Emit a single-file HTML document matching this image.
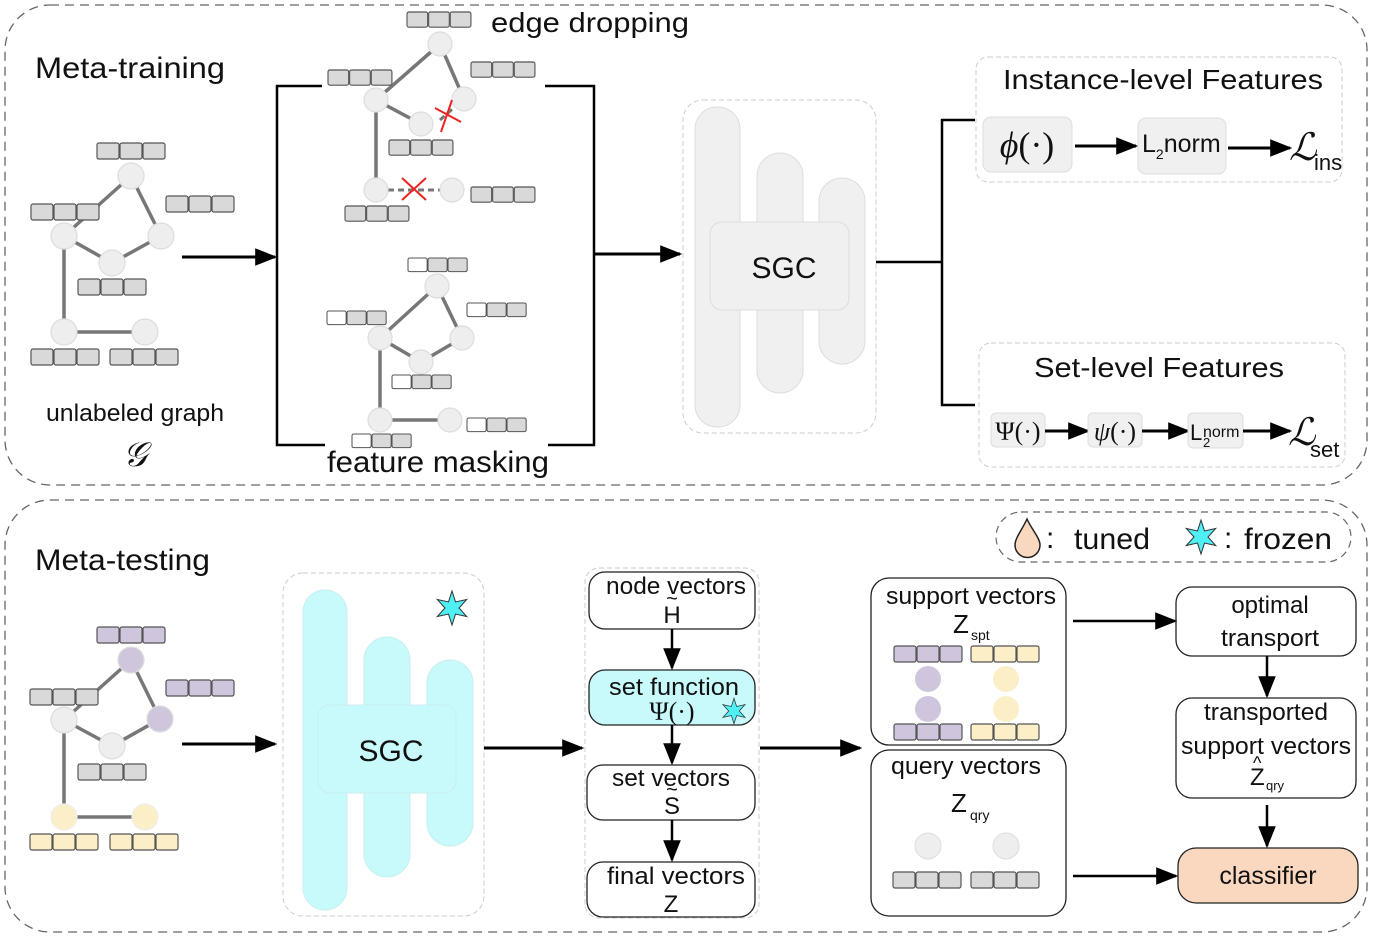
<!DOCTYPE html>
<html><head><meta charset="utf-8"><style>
html,body{margin:0;padding:0;background:#fff}
svg{display:block}
text{font-family:"Liberation Sans",sans-serif;fill:#111}
.s{font-family:"Liberation Serif",serif}
</style></head><body>
<svg width="1373" height="936" viewBox="0 0 1373 936" xmlns="http://www.w3.org/2000/svg">
<defs>
<marker id="ah" viewBox="0 0 10 10" refX="9" refY="5" markerWidth="10" markerHeight="10" markerUnits="userSpaceOnUse" orient="auto"><path d="M0,0L10,5L0,10z" fill="#000"/></marker>
<marker id="ab" viewBox="0 0 10 10" refX="9" refY="5" markerWidth="22" markerHeight="22" markerUnits="userSpaceOnUse" orient="auto"><path d="M0,1L10,5L0,9z" fill="#000"/></marker>
<g id="bg"><rect x="0" y="0" width="22" height="16" rx="2" fill="#d9d9d9" stroke="#555" stroke-width="1.2"/><rect x="23" y="0" width="22" height="16" rx="2" fill="#d9d9d9" stroke="#555" stroke-width="1.2"/><rect x="46" y="0" width="22" height="16" rx="2" fill="#d9d9d9" stroke="#555" stroke-width="1.2"/></g>
<g id="bm"><rect x="0" y="0" width="22" height="16" rx="2" fill="#fff" stroke="#555" stroke-width="1.2"/><rect x="23" y="0" width="22" height="16" rx="2" fill="#d9d9d9" stroke="#555" stroke-width="1.2"/><rect x="46" y="0" width="22" height="16" rx="2" fill="#d9d9d9" stroke="#555" stroke-width="1.2"/></g>
<g id="bp"><rect x="0" y="0" width="22" height="16" rx="2" fill="#cfc6de" stroke="#555" stroke-width="1.2"/><rect x="23" y="0" width="22" height="16" rx="2" fill="#cfc6de" stroke="#555" stroke-width="1.2"/><rect x="46" y="0" width="22" height="16" rx="2" fill="#cfc6de" stroke="#555" stroke-width="1.2"/></g>
<g id="by"><rect x="0" y="0" width="22" height="16" rx="2" fill="#fcefc8" stroke="#555" stroke-width="1.2"/><rect x="23" y="0" width="22" height="16" rx="2" fill="#fcefc8" stroke="#555" stroke-width="1.2"/><rect x="46" y="0" width="22" height="16" rx="2" fill="#fcefc8" stroke="#555" stroke-width="1.2"/></g>
<polygon id="star" points="0,-17 3.5,-6.06 14.72,-8.5 7,0 14.72,8.5 3.5,6.06 0,17 -3.5,6.06 -14.72,8.5 -7,0 -14.72,-8.5 -3.5,-6.06" fill="#4ef0f4" stroke="#333" stroke-width="1"/>
</defs>

<!-- outer dashed boxes -->
<rect x="5" y="5" width="1362" height="480" rx="45" fill="none" stroke="#666" stroke-width="1.3" stroke-dasharray="9,6"/>
<rect x="5" y="500" width="1362" height="432" rx="45" fill="none" stroke="#666" stroke-width="1.3" stroke-dasharray="9,6"/>

<text x="35" y="78" font-size="30" textLength="190" lengthAdjust="spacingAndGlyphs">Meta-training</text>
<text x="35" y="570" font-size="30" textLength="175" lengthAdjust="spacingAndGlyphs">Meta-testing</text>

<!-- top-left graph -->
<g stroke="#777" stroke-width="3.5">
<line x1="131" y1="176" x2="64" y2="236"/><line x1="131" y1="176" x2="161" y2="236"/><line x1="64" y1="236" x2="112" y2="263"/><line x1="161" y1="236" x2="112" y2="263"/><line x1="64" y1="236" x2="64" y2="332"/><line x1="64" y1="332" x2="145" y2="332"/>
</g>
<g fill="#eee" stroke="#ddd" stroke-width="1.2">
<circle cx="131" cy="176" r="13"/><circle cx="64" cy="236" r="13"/><circle cx="161" cy="236" r="13"/><circle cx="112" cy="263" r="13"/><circle cx="64" cy="332" r="13"/><circle cx="145" cy="332" r="13"/>
</g>
<use href="#bg" x="97" y="143"/><use href="#bg" x="31" y="204"/><use href="#bg" x="166" y="196"/><use href="#bg" x="78" y="279"/><use href="#bg" x="31" y="349"/><use href="#bg" x="110" y="349"/>
<text x="135" y="421" font-size="24" text-anchor="middle" textLength="178" lengthAdjust="spacingAndGlyphs">unlabeled graph</text>
<text x="135" y="466" font-size="34" font-style="italic" text-anchor="middle" class="s">𝒢</text>

<line x1="182" y1="257" x2="275" y2="257" stroke="#000" stroke-width="3" marker-end="url(#ab)"/>

<!-- bracket -->
<path d="M322,86H277V445H325M545,86H594V445H548" fill="none" stroke="#000" stroke-width="2.5"/>
<line x1="594" y1="254" x2="680" y2="254" stroke="#000" stroke-width="3" marker-end="url(#ab)"/>

<!-- edge dropping graph -->
<g stroke="#777" stroke-width="3.5">
<line x1="440" y1="44" x2="376" y2="100"/><line x1="440" y1="44" x2="464" y2="99"/><line x1="376" y1="100" x2="421" y2="124"/><line x1="376" y1="100" x2="376" y2="190"/>
</g>
<g stroke="#777" stroke-width="3" stroke-dasharray="6,4"><line x1="440" y1="120" x2="458" y2="104"/><line x1="388" y1="190" x2="440" y2="190"/></g>
<g fill="#eee" stroke="#ddd" stroke-width="1.2">
<circle cx="440" cy="44" r="12"/><circle cx="376" cy="100" r="12"/><circle cx="464" cy="99" r="12"/><circle cx="421" cy="124" r="12"/><circle cx="376" cy="190" r="12"/><circle cx="452" cy="190" r="12"/>
</g>
<g stroke="#e22" stroke-width="2"><line x1="435" y1="108" x2="461" y2="122"/><line x1="452" y1="100" x2="441" y2="132"/><line x1="402" y1="178" x2="426" y2="200"/><line x1="426" y1="178" x2="402" y2="200"/></g>
<g transform="translate(407,12) scale(0.94,0.95)"><use href="#bg"/></g>
<g transform="translate(328,70) scale(0.94,0.95)"><use href="#bg"/></g>
<g transform="translate(471,62) scale(0.94,0.95)"><use href="#bg"/></g>
<g transform="translate(389,140) scale(0.94,0.95)"><use href="#bg"/></g>
<g transform="translate(345,206) scale(0.94,0.95)"><use href="#bg"/></g>
<g transform="translate(471,187) scale(0.94,0.95)"><use href="#bg"/></g>
<text x="491" y="32" font-size="28" textLength="198" lengthAdjust="spacingAndGlyphs">edge dropping</text>

<!-- feature masking graph -->
<g stroke="#777" stroke-width="3.5">
<line x1="437" y1="286" x2="380" y2="338"/><line x1="437" y1="286" x2="462" y2="338"/><line x1="380" y1="338" x2="421" y2="362"/><line x1="462" y1="338" x2="421" y2="362"/><line x1="380" y1="338" x2="380" y2="420"/><line x1="380" y1="420" x2="450" y2="420"/>
</g>
<g fill="#eee" stroke="#ddd" stroke-width="1.2">
<circle cx="437" cy="286" r="12"/><circle cx="380" cy="338" r="12"/><circle cx="462" cy="338" r="12"/><circle cx="421" cy="362" r="12"/><circle cx="380" cy="420" r="12"/><circle cx="450" cy="420" r="12"/>
</g>
<g transform="translate(408,258) scale(0.87,0.85)"><use href="#bm"/></g>
<g transform="translate(327,311) scale(0.87,0.85)"><use href="#bm"/></g>
<g transform="translate(467,303) scale(0.87,0.85)"><use href="#bm"/></g>
<g transform="translate(392,375) scale(0.87,0.85)"><use href="#bm"/></g>
<g transform="translate(352,434) scale(0.87,0.85)"><use href="#bm"/></g>
<g transform="translate(467,418) scale(0.87,0.85)"><use href="#bm"/></g>
<text x="327" y="472" font-size="30" textLength="222" lengthAdjust="spacingAndGlyphs">feature masking</text>

<!-- SGC top -->
<rect x="683" y="100" width="193" height="333" rx="20" fill="none" stroke="#ccc" stroke-width="1" stroke-dasharray="5,3"/>
<g fill="#f0f0f0" stroke="#ddd" stroke-width="1">
<rect x="695" y="107" width="45" height="320" rx="22"/><rect x="757" y="153" width="46" height="240" rx="23"/><rect x="819" y="178" width="46" height="186" rx="23"/>
<rect x="710" y="222" width="139" height="88" rx="12"/>
</g>
<text x="784" y="278" font-size="30" text-anchor="middle">SGC</text>

<path d="M876,262H942M975,120H942V405H975" fill="none" stroke="#000" stroke-width="2.5"/>

<!-- instance -->
<rect x="976" y="57" width="366" height="125" rx="12" fill="none" stroke="#ccc" stroke-dasharray="5,3"/>
<text x="1163" y="89" font-size="28" text-anchor="middle" textLength="320" lengthAdjust="spacingAndGlyphs">Instance-level Features</text>
<rect x="983" y="117" width="89" height="55" rx="8" fill="#f0f0f0" stroke="#ddd"/>
<text x="1027" y="157" font-size="36" text-anchor="middle" class="s"><tspan font-style="italic">ϕ</tspan>(·)</text>
<line x1="1075" y1="146" x2="1136" y2="146" stroke="#000" stroke-width="3" marker-end="url(#ab)"/>
<rect x="1138" y="118" width="88" height="56" rx="8" fill="#f0f0f0" stroke="#ddd"/>
<text x="1142" y="152" font-size="25">L<tspan font-size="14" dy="7">2</tspan><tspan dy="-7">norm</tspan></text>
<line x1="1228" y1="148" x2="1290" y2="148" stroke="#000" stroke-width="3" marker-end="url(#ab)"/>
<text x="1289" y="160" font-size="38" font-style="italic" class="s">ℒ</text>
<text x="1314" y="170" font-size="22">ins</text>

<!-- set -->
<rect x="979" y="343" width="366" height="124" rx="12" fill="none" stroke="#ccc" stroke-dasharray="5,3"/>
<text x="1159" y="377" font-size="28" text-anchor="middle" textLength="250" lengthAdjust="spacingAndGlyphs">Set-level Features</text>
<rect x="991" y="413" width="54" height="34" rx="5" fill="#f0f0f0" stroke="#ddd"/>
<text x="1018" y="440" font-size="26" text-anchor="middle" class="s">Ψ(·)</text>
<line x1="1045" y1="431" x2="1088" y2="431" stroke="#000" stroke-width="3" marker-end="url(#ab)"/>
<rect x="1088" y="413" width="54" height="34" rx="5" fill="#f0f0f0" stroke="#ddd"/>
<text x="1115" y="440" font-size="26" text-anchor="middle" class="s"><tspan font-style="italic">ψ</tspan>(·)</text>
<line x1="1142" y1="431" x2="1188" y2="431" stroke="#000" stroke-width="3" marker-end="url(#ab)"/>
<rect x="1188" y="413" width="55" height="35" rx="5" fill="#f0f0f0" stroke="#ddd"/>
<text x="1190" y="440" font-size="22">L</text><text x="1203" y="447" font-size="13">2</text><text x="1203" y="437" font-size="16">norm</text>
<line x1="1243" y1="431" x2="1290" y2="431" stroke="#000" stroke-width="3" marker-end="url(#ab)"/>
<text x="1288" y="445" font-size="38" font-style="italic" class="s">ℒ</text>
<text x="1310" y="457" font-size="22">set</text>

<!-- legend -->
<rect x="996" y="512" width="355" height="50" rx="25" fill="none" stroke="#666" stroke-width="1.2" stroke-dasharray="7,5"/>
<path d="M1027,519 C1032,530 1040,538 1040,545 A12,12 0 0 1 1015,545 C1015,538 1022,530 1027,519Z" fill="#fad7bf" stroke="#222" stroke-width="1.5"/>
<text x="1046" y="548" font-size="30">:</text>
<text x="1074" y="549" font-size="30" textLength="76" lengthAdjust="spacingAndGlyphs">tuned</text>
<use href="#star" x="1201" y="537"/>
<text x="1224" y="548" font-size="30">:</text>
<text x="1244" y="549" font-size="30" textLength="88" lengthAdjust="spacingAndGlyphs">frozen</text>

<!-- bottom graph -->
<g stroke="#777" stroke-width="3.5">
<line x1="131" y1="660" x2="64" y2="720"/><line x1="131" y1="660" x2="160" y2="719"/><line x1="64" y1="720" x2="112" y2="746"/><line x1="160" y1="719" x2="112" y2="746"/><line x1="64" y1="720" x2="64" y2="817"/><line x1="64" y1="817" x2="145" y2="817"/>
</g>
<g stroke-width="1.2">
<circle cx="131" cy="660" r="13" fill="#cfc6de" stroke="#ddd"/><circle cx="64" cy="720" r="13" fill="#eee" stroke="#ddd"/><circle cx="160" cy="719" r="13" fill="#cfc6de" stroke="#ddd"/><circle cx="112" cy="746" r="13" fill="#eee" stroke="#ddd"/><circle cx="64" cy="817" r="13" fill="#fcefc8" stroke="#eee"/><circle cx="145" cy="817" r="13" fill="#fcefc8" stroke="#eee"/>
</g>
<use href="#bp" x="97" y="627"/><use href="#bg" x="30" y="689"/><use href="#bp" x="166" y="680"/><use href="#bg" x="78" y="764"/><use href="#by" x="30" y="834"/><use href="#by" x="110" y="834"/>
<line x1="182" y1="744" x2="275" y2="744" stroke="#000" stroke-width="3" marker-end="url(#ab)"/>

<!-- SGC frozen -->
<rect x="283" y="573" width="201" height="343" rx="20" fill="none" stroke="#ccc" stroke-dasharray="5,3"/>
<g fill="#c8fafc" stroke="#c8eef0" stroke-width="1">
<rect x="303" y="590" width="44" height="320" rx="22"/><rect x="364" y="637" width="46" height="240" rx="23"/><rect x="427" y="660" width="46" height="186" rx="23"/>
<rect x="318" y="705" width="138" height="88" rx="12"/>
</g>
<text x="391" y="761" font-size="30" text-anchor="middle">SGC</text>
<use href="#star" x="452" y="608"/>
<line x1="484" y1="748" x2="582" y2="748" stroke="#000" stroke-width="3" marker-end="url(#ab)"/>

<!-- middle column -->
<rect x="585" y="568" width="174" height="350" rx="14" fill="none" stroke="#ccc" stroke-dasharray="5,3"/>
<g stroke="#222" stroke-width="1.3">
<rect x="589" y="572" width="166" height="57" rx="16" fill="#fff"/>
<rect x="589" y="670" width="166" height="55" rx="16" fill="#c8fafc"/>
<rect x="587" y="765" width="168" height="55" rx="16" fill="#fff"/>
<rect x="587" y="862" width="168" height="55" rx="16" fill="#fff"/>
</g>
<text x="676" y="594" font-size="24" text-anchor="middle" textLength="140" lengthAdjust="spacingAndGlyphs">node vectors</text>
<text x="672" y="623" font-size="24" text-anchor="middle">H</text><text x="672" y="605" font-size="20" text-anchor="middle">~</text>
<text x="674" y="695" font-size="24" text-anchor="middle" textLength="130" lengthAdjust="spacingAndGlyphs">set function</text>
<text x="672" y="720" font-size="26" text-anchor="middle" class="s">Ψ(·)</text>
<use href="#star" x="734" y="711" transform="translate(734,711) scale(0.75) translate(-734,-711)"/>
<text x="671" y="786" font-size="24" text-anchor="middle" textLength="118" lengthAdjust="spacingAndGlyphs">set vectors</text>
<text x="672" y="814" font-size="24" text-anchor="middle">S</text><text x="672" y="796" font-size="20" text-anchor="middle">~</text>
<text x="676" y="884" font-size="24" text-anchor="middle" textLength="138" lengthAdjust="spacingAndGlyphs">final vectors</text>
<text x="671" y="912" font-size="24" text-anchor="middle">Z</text>
<g stroke="#000" stroke-width="2.5">
<line x1="672" y1="629" x2="672" y2="668" marker-end="url(#ab)"/>
<line x1="672" y1="725" x2="672" y2="763" marker-end="url(#ab)"/>
<line x1="672" y1="820" x2="672" y2="860" marker-end="url(#ab)"/>
</g>
<line x1="760" y1="748" x2="860" y2="748" stroke="#000" stroke-width="3" marker-end="url(#ab)"/>

<!-- support/query -->
<g stroke="#222" stroke-width="1.3" fill="#fff">
<rect x="871" y="578" width="195" height="167" rx="18"/>
<rect x="871" y="750" width="195" height="166" rx="18"/>
</g>
<text x="971" y="604" font-size="24" text-anchor="middle" textLength="170" lengthAdjust="spacingAndGlyphs">support vectors</text>
<text x="953" y="633" font-size="26">Z</text><text x="971" y="640" font-size="14">spt</text>
<use href="#bp" x="894" y="646"/><use href="#by" x="971" y="646"/>
<circle cx="928" cy="679" r="13" fill="#cfc6de"/><circle cx="928" cy="709" r="13" fill="#cfc6de"/>
<circle cx="1006" cy="679" r="13" fill="#fcefc8"/><circle cx="1006" cy="709" r="13" fill="#fcefc8"/>
<use href="#bp" x="894" y="724"/><use href="#by" x="971" y="724"/>
<text x="966" y="774" font-size="24" text-anchor="middle" textLength="150" lengthAdjust="spacingAndGlyphs">query vectors</text>
<text x="951" y="812" font-size="26">Z</text><text x="970" y="820" font-size="14">qry</text>
<circle cx="928" cy="846" r="13" fill="#eee" stroke="#ddd"/><circle cx="1006" cy="846" r="13" fill="#eee" stroke="#ddd"/>
<use href="#bg" x="893" y="872"/><use href="#bg" x="971" y="872"/>

<!-- right column -->
<g stroke="#222" stroke-width="1.3">
<rect x="1176" y="587" width="180" height="69" rx="16" fill="#fff"/>
<rect x="1176" y="698" width="180" height="100" rx="16" fill="#fff"/>
<rect x="1178" y="848" width="180" height="55" rx="18" fill="#fad7bf"/>
</g>
<text x="1270" y="613" font-size="24" text-anchor="middle">optimal</text>
<text x="1270" y="646" font-size="24" text-anchor="middle" textLength="98" lengthAdjust="spacingAndGlyphs">transport</text>
<text x="1266" y="720" font-size="24" text-anchor="middle" textLength="124" lengthAdjust="spacingAndGlyphs">transported</text>
<text x="1266" y="754" font-size="24" text-anchor="middle" textLength="170" lengthAdjust="spacingAndGlyphs">support vectors</text>
<text x="1250" y="785" font-size="24">Z</text><text x="1253" y="769" font-size="18">^</text><text x="1266" y="790" font-size="13">qry</text>
<text x="1268" y="884" font-size="25" text-anchor="middle">classifier</text>
<g stroke="#000" stroke-width="2.5">
<line x1="1073" y1="621" x2="1175" y2="621" marker-end="url(#ab)"/>
<line x1="1267" y1="656" x2="1267" y2="696" marker-end="url(#ab)"/>
<line x1="1267" y1="805" x2="1267" y2="846" marker-end="url(#ab)"/>
<line x1="1073" y1="876" x2="1176" y2="876" marker-end="url(#ab)"/>
</g>
</svg>
</body></html>
